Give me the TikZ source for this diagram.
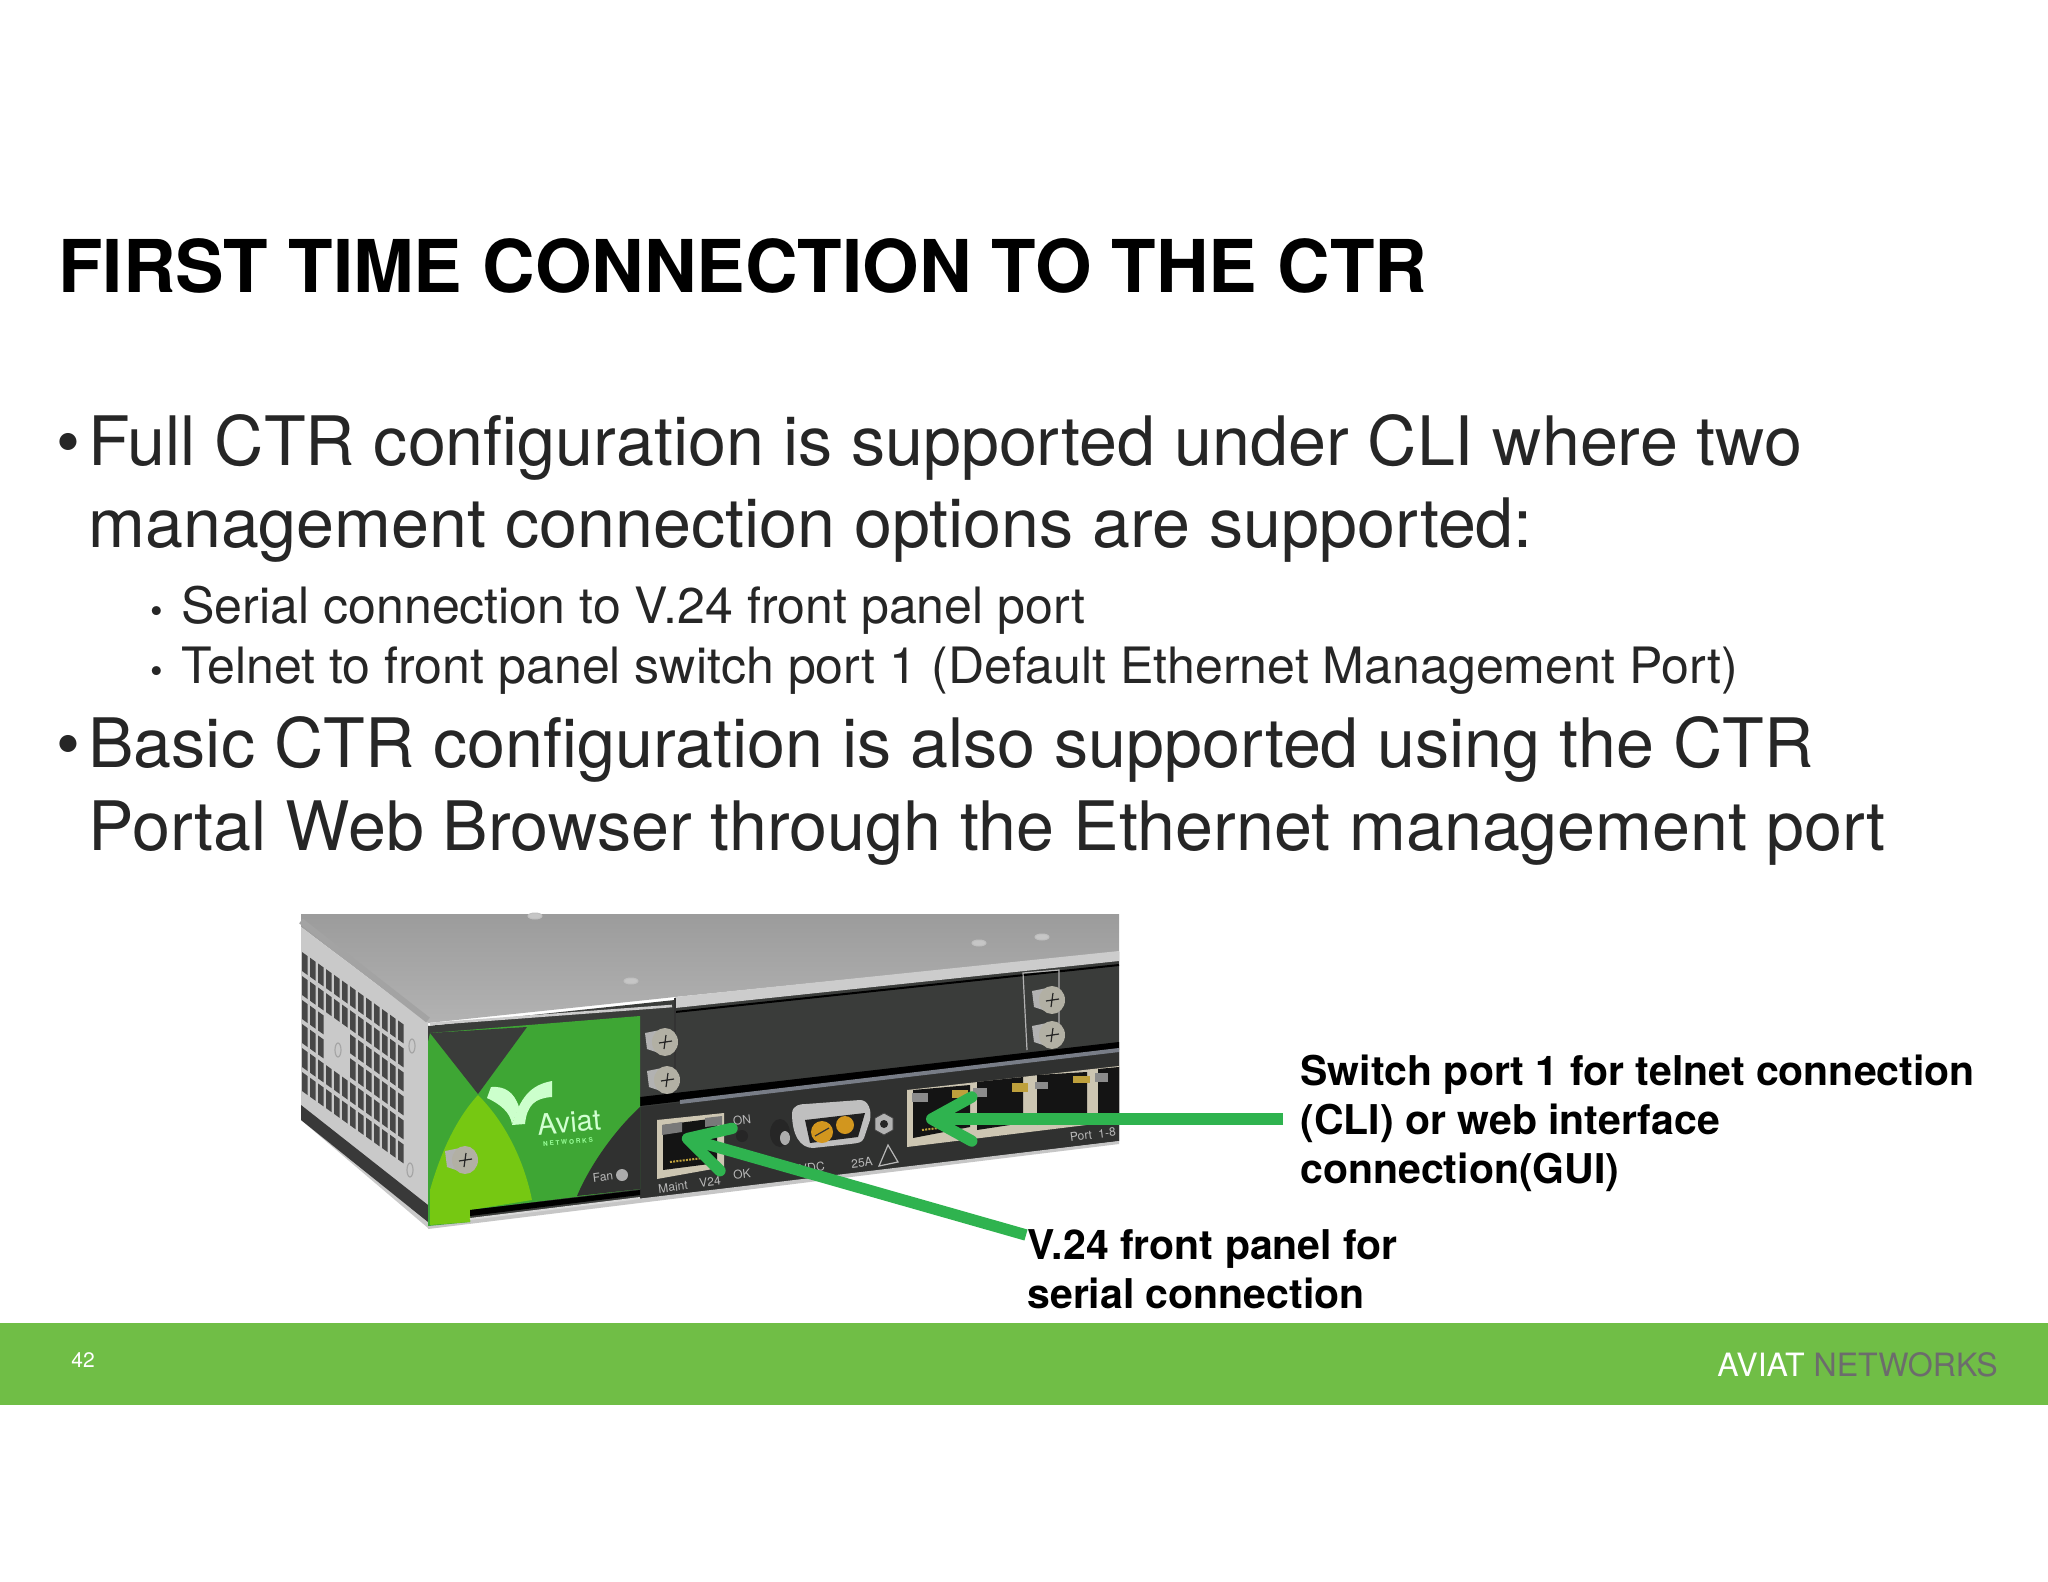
\documentclass[tikz,border=0pt]{standalone}
\usepackage{fontspec}
\setmainfont{TeX Gyre Heros}
\usetikzlibrary{arrows.meta}
\definecolor{bandgreen}{RGB}{112,190,70}
\definecolor{arrowgreen}{RGB}{47,179,79}
\definecolor{panelgreen}{RGB}{62,166,52}
\definecolor{limegreen}{RGB}{118,200,18}
\definecolor{bodygrey}{RGB}{38,38,38}
\definecolor{upperdark}{RGB}{58,60,58}
\definecolor{lowerdark}{RGB}{48,49,48}
\definecolor{portframe}{RGB}{205,198,178}
\definecolor{ledgold}{RGB}{190,160,60}
\definecolor{pingold}{RGB}{210,150,30}
\definecolor{screwmetal}{RGB}{178,176,164}
\definecolor{rimblue}{RGB}{120,125,135}
\tikzset{
  titletext/.style={anchor=base west,inner sep=0pt,font=\fontsize{36.4}{40}\selectfont\bfseries,text=black},
  bodytext/.style={anchor=base west,inner sep=0pt,font=\fontsize{34.1}{36}\selectfont,text=bodygrey},
  subtext/.style={anchor=base west,inner sep=0pt,font=\fontsize{25.05}{28}\selectfont,text=bodygrey},
  subdot/.style={anchor=base west,inner sep=0pt,font=\fontsize{18}{20}\selectfont,text=bodygrey},
  calltext/.style={anchor=base west,inner sep=0pt,font=\fontsize{20.5}{24}\selectfont\bfseries,text=black},
  devtext/.style={inner sep=0pt,text=white!72!black,rotate=7,font=\fontsize{6}{7}\selectfont},
  screwhead/.style={fill=screwmetal,draw=none},
  portmouth/.style={fill=black!92,draw=none},
  ledtab/.style={fill=ledgold,draw=none},
  tabgrey/.style={fill=gray!90,draw=none},
  callarrow/.style={draw=arrowgreen,line width=5.7pt,-{Straight Barb[round,length=20pt,width=22pt]}},
}
\newcommand{\screwat}[2]{%
  \fill[gray!60] (#1-20,#2-9) -- (#1,#2-13) -- (#1,#2+13) -- (#1-18,#2+7) -- cycle;
  \fill[screwhead] (#1,#2) ellipse (13 and 14);
  \draw[gray!30!black,line width=.6pt] (#1-6,#2+1) -- (#1+7,#2-1) (#1+1,#2-7) -- (#1-1,#2+7);
}
\begin{document}
\begin{tikzpicture}[x=0.5pt,y=-0.5pt]
\useasboundingbox (0,0) rectangle (2048,1582);
\fill[white] (0,0) rectangle (2048,1582);

\shade[top color=gray!78,bottom color=gray!60] (301,914) -- (1119,914) -- (1119,952) -- (675,997) -- (428,1023) -- (301,927) -- cycle;
\foreach \mx/\my in {535/916,631/981,979/943,1042/937}
  \draw[gray!50,fill=gray!45,line width=.5pt] (\mx,\my) ellipse (7 and 3);

\fill[gray!42] (301,927) -- (428,1023) -- (428,1228) -- (301,1120) -- cycle;
\draw[gray!72,line width=3pt] (301,921) -- (428,1020);
\foreach \rowlist/\collist in {{0,1,4,5}/{0,...,12},{2,3}/{0,1,2,6,7,8,9,10,11,12}}
  \foreach \rr in \rowlist
    \foreach \cc in \collist
      \fill[black!72] ({302+\cc*8},{952+\rr*24+\cc*5.7}) -- ++(5.5,4) -- ++(0,19) -- ++(-5.5,-4) -- cycle;
\foreach \hx/\hy in {338/1050,412/1046,410/1170}
  \draw[gray!70,line width=.6pt] (\hx,\hy) ellipse (3 and 7);
\fill[gray!45!black] (301,1105) -- (428,1205) -- (428,1222) -- (301,1120) -- cycle;

\fill[upperdark] (428,1026) -- (675,1000) -- (1119,952) -- (1119,1141) -- (640,1200) -- (470,1220) -- (428,1226) -- cycle;
\fill[lowerdark] (640,1107) -- (1119,1052) -- (1119,1141) -- (640,1200) -- cycle;
\fill[gray!45] (428,1224) -- (1119,1141) -- (1119,1144) -- (428,1229) -- cycle;
\fill[white!80!black] (675,997) -- (1119,951) -- (1119,961) -- (675,1008) -- cycle;
\draw[white!80!black,line width=1.3pt] (430,1024) -- (672,1006);
\draw[black,line width=1pt] (675,1012) -- (1119,965);
\fill[black] (640,1097) -- (1119,1042) -- (1119,1050) -- (640,1106) -- cycle;
\draw[rimblue,line width=2pt] (680,1102) -- (1119,1050);
\draw[gray!60,line width=.6pt] (1027,1050) -- (1023,973) -- (1059,970) -- (1059,1046);
\draw[gray!40!black,line width=.8pt] (675,998) -- (675,1093);

\fill[panelgreen] (428,1042) -- (430,1033) -- (640,1016) -- (640,1189) -- (470,1210) -- (470,1222) -- (428,1226) -- cycle;
\fill[upperdark] (430,1033) -- (527,1027) -- (478,1094) -- cycle;
\fill[limegreen] (478,1095) .. controls (508,1125) and (525,1165) .. (532,1200) -- (470,1210) -- (470,1222) -- (430,1225) -- (430,1190) .. controls (440,1155) and (455,1120) .. (478,1095) -- cycle;
\fill[lowerdark] (640,1107) .. controls (615,1130) and (590,1165) .. (577,1196) -- (640,1189) -- cycle;
\fill[black] (470,1210) -- (640,1190) -- (640,1195) -- (470,1216) -- cycle;
\draw[white!85!black,line width=1pt] (470,1219) -- (640,1198);

\fill[white!80!green] (487,1098) -- (491,1087) .. controls (505,1086) and (514,1092) .. (519,1107) -- (512,1124) .. controls (510,1112) and (500,1104) .. (487,1098) -- cycle;
\fill[white!80!green] (512,1125) -- (525,1124) .. controls (527,1105) and (535,1098) .. (552,1097) -- (552,1081) .. controls (530,1085) and (520,1098) .. (512,1125) -- cycle;
\node[inner sep=0pt,text=white!82!green,rotate=5,font=\fontsize{14.5}{15}\selectfont] (logoname) at (569,1122) {Aviat};
\node[inner sep=0pt,text=white!60!green,rotate=5,font=\fontsize{3.2}{4}\selectfont\bfseries] (logosub) at (568,1142) {N E T W O R K S};

\screwat{665}{1042}
\screwat{667}{1080}
\screwat{1052}{1000}
\screwat{1052}{1035}
\screwat{465}{1160}

\fill[portframe] (657,1120) -- (724,1113) -- (724,1167) -- (657,1179) -- cycle;
\fill[portmouth] (663,1125) -- (717,1118) -- (717,1163) -- (663,1170) -- cycle;
\fill[gray!95!black] (662,1125) -- (682,1122) -- (682,1132) -- (662,1135) -- cycle;
\fill[gray!95!black] (705,1118) -- (722,1116) -- (722,1125) -- (705,1127) -- cycle;
\draw[ledgold,line width=1pt,dash pattern=on 1pt off .6pt] (670,1162) -- (703,1158);

\fill[portframe] (907,1090) -- (1119,1066) -- (1119,1121) -- (907,1147) -- cycle;
\foreach \pl/\pr/\tl/\tr/\bl/\br in {913/970/1090/1085/1138/1127,977/1023/1082/1077/1130/1123,1037/1087/1075/1072/1125/1117,1098/1119/1069/1067/1116/1113}
  \fill[portmouth] (\pl,\tl) -- (\pr,\tr) -- (\pr,\br) -- (\pl,\bl) -- cycle;
\foreach \ax/\ay/\bx/\by in {952/1090/968/1098,1012/1083/1028/1092,1073/1076/1090/1083}
  \fill[ledtab] (\ax,\ay) rectangle (\bx,\by);
\foreach \ax/\ay/\bx/\by in {912/1093/928/1102,973/1088/987/1097,1035/1082/1048/1089,1095/1073/1108/1082}
  \fill[tabgrey] (\ax,\ay) rectangle (\bx,\by);
\draw[ledgold,line width=1pt,dash pattern=on 1pt off .6pt] (922,1130) -- (947,1127);

\fill[white!75!black] (792,1113) .. controls (793,1105) and (800,1104) .. (806,1104) -- (860,1100) .. controls (868,1100) and (872,1110) .. (870,1120) -- (864,1138) .. controls (862,1143) and (858,1143) .. (850,1144) -- (813,1148) .. controls (800,1148) and (792,1135) .. (792,1113) -- cycle;
\fill[gray!25!black] (805,1120) -- (865,1113) -- (858,1137) -- (810,1143) -- cycle;
\fill[pingold] (822,1132) circle (11);
\draw[gray!40!black,line width=.6pt] (815,1136) -- (829,1128);
\fill[pingold] (845,1125) circle (9);
\fill[gray!30!black] (780,1133) ellipse (10 and 14);
\fill[gray!65] (785,1138) ellipse (5 and 7);
\fill[white!70!black,draw=gray!50!black,line width=.4pt] (884,1113) -- (893,1118) -- (893,1130) -- (884,1135) -- (875,1130) -- (875,1118) -- cycle;
\fill[gray!30!black] (884,1124) circle (4);

\node[devtext] (onlabel) at (742,1120) {ON};
\node[devtext] (oklabel) at (742,1174) {OK};
\node[devtext] (maintlabel) at (673,1187) {Maint};
\node[devtext] (vlabel) at (710,1182) {V24};
\node[devtext] (fanlabel) at (603,1177) {Fan};
\fill[gray!65] (622,1175) circle (6);
\fill[gray!30!black] (742,1136) circle (6);
\node[devtext] (vdclabel) at (812,1168) {VDC};
\node[devtext] (amplabel) at (862,1163) {25A};
\draw[white!72!black,line width=.6pt] (879,1166) -- (888,1145) -- (898,1162) -- cycle;
\node[devtext] (portlabel) at (1081,1136) {Port};
\node[devtext] (rangelabel) at (1107,1133) {1-8};

\draw (58,293) node[titletext] (titleline) {FIRST TIME CONNECTION TO THE CTR}
  (56,466) node[bodytext] (bulletone) {•}
  (88,466) node[bodytext] (fullone) {Full CTR configuration is supported under CLI where two}
  (88,548) node[bodytext] (fulltwo) {management connection options are supported:}
  (150,623) node[subdot] (bulletserial) {•}
  (181,623) node[subtext] (serialline) {Serial connection to V.24 front panel port}
  (150,683) node[subdot] (bullettelnet) {•}
  (181,683) node[subtext] (telnetline) {Telnet to front panel switch port 1 (Default Ethernet Management Port)}
  (56,767) node[bodytext] (bullettwo) {•}
  (88,767) node[bodytext] (basicone) {Basic CTR configuration is also supported using the CTR}
  (88,850) node[bodytext] (basictwo) {Portal Web Browser through the Ethernet management port}
  (1300,1085) node[calltext] (switchone) {Switch port 1 for telnet connection}
  (1300,1134) node[calltext] (switchtwo) {(CLI) or web interface}
  (1300,1183) node[calltext] (switchthree) {connection(GUI)}
  (1027,1259) node[calltext] (vonline) {V.24 front panel for}
  (1027,1308) node[calltext] (vtwoline) {serial connection};

\fill[bandgreen] (0,1323) rectangle (2048,1405);
\node[anchor=base west,inner sep=0pt,text=white,font=\fontsize{10.5}{12}\selectfont] (pagenum) at (71,1367) {42};
\node[anchor=base east,inner sep=0pt,font=\fontsize{16.05}{18}\selectfont] (brandname) at (1998,1376) {\textcolor{white}{AVIAT} \textcolor{gray!85!black}{NETWORKS}};

\coordinate (switchend) at (1283,1119);
\coordinate (switchport) at (926,1119);
\coordinate (serialend) at (1026,1235);
\coordinate (serialport) at (682,1137);
\draw[callarrow] (switchend) -- (switchport);
\draw[callarrow] (serialend) -- (serialport);
\end{tikzpicture}
\end{document}
